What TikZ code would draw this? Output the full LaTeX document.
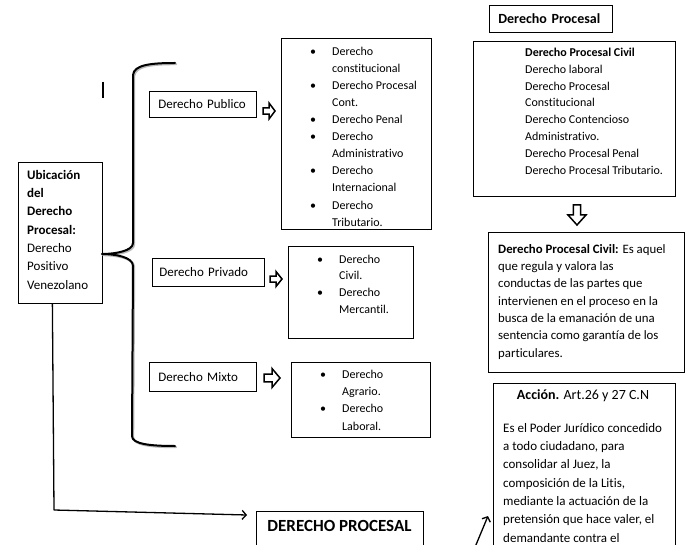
\documentclass[tikz,border=0pt]{standalone}
\usepackage{fontspec}
\setmainfont{Carlito}[Ligatures=NoCommon]
\usetikzlibrary{arrows.meta,calc}
\begin{document}
\begin{tikzpicture}[x=1pt,y=-1pt,
  box/.style={draw, line width=0.75pt, inner sep=0pt, anchor=north west},
  tbox/.style={box, align=left, font=\fontsize{13}{16}\selectfont},
  txt/.style={inner sep=0pt, anchor=north west},
  brace/.style={line width=2pt, line cap=round, line join=round},
  conn/.style={line width=1.3pt, -{Straight Barb[length=4pt,width=9pt,line width=1.3pt]}},
  harrowR/.pic={\draw[line width=1.5pt, line join=miter] (-0.5,-0.2)--(0,-0.2)--(0,-0.5)--(0.5,0)--(0,0.5)--(0,0.2)--(-0.5,0.2)--cycle;},
  harrowD/.pic={\draw[line width=1.5pt, line join=miter] (-0.2,-0.5)--(0.2,-0.5)--(0.2,0)--(0.5,0)--(0,0.5)--(-0.5,0)--(-0.2,0)--cycle;}
]
\useasboundingbox (0,0) rectangle (698,545);
\clip (0,0) rectangle (698,545);
\fill[white] (0,0) rectangle (698,545);

% left box
\node[box, minimum width=84pt, minimum height=141pt] (lb) at (18,162) {};
\node[txt, font=\fontsize{13}{18.3}\selectfont] (lbt) at (27,166.2) {\begin{tabular}{@{}l@{}}\textbf{Ubicación}\\ \textbf{del}\\ \textbf{Derecho}\\ \textbf{Procesal:}\\ Derecho\\ Positivo\\ Venezolano\end{tabular}};

% brace
\draw[brace, gray!55, shift={(1.2,1.2)}] (175,63) .. controls (150,63) and (134,65) .. (133,75) -- (133,243) .. controls (133,251) and (115,254) .. (102,254) .. controls (115,254) and (133,257) .. (133,266) -- (132,436) .. controls (132,444) and (150,446) .. (175,446);
\draw[brace] (175,63) .. controls (150,63) and (134,65) .. (133,75) -- (133,243) .. controls (133,251) and (115,254) .. (102,254) .. controls (115,254) and (133,257) .. (133,266) -- (132,436) .. controls (132,444) and (150,446) .. (175,446);

% small bar
\coordinate (bar1) at (103,82);
\coordinate (bar2) at (103,98);
\draw[line width=1.5pt] (bar1) -- (bar2);

% category boxes
\node[tbox, minimum width=107pt, minimum height=26pt, text width=89pt, inner xsep=9pt] (pub) at (149,91) {Derecho Publico};
\node[tbox, minimum width=112pt, minimum height=28pt, text width=98pt, inner xsep=7pt] (priv) at (152,258) {Derecho Privado};
\node[tbox, minimum width=107pt, minimum height=29pt, text width=89pt, inner xsep=9pt] (mix) at (149,362) {Derecho Mixto};

% hollow arrows
\pic[xscale=12,yscale=16] (apub) at (269,111) {harrowR};
\pic[xscale=12,yscale=15] (apriv) at (276,279) {harrowR};
\pic[xscale=16,yscale=19] (amix) at (272,378) {harrowR};
\pic[xscale=18,yscale=20] (adown) at (577,215) {harrowD};

% list boxes
\node[box, minimum width=150pt, minimum height=191pt] (l1) at (281,38) {};
\node[txt, font=\fontsize{12}{17.1}\selectfont] (l1t) at (310,43) {\begin{tabular}{@{}p{22pt}@{}l@{}}\textbullet & Derecho\\ & constitucional\\ \textbullet & Derecho Procesal\\ & Cont.\\ \textbullet & Derecho Penal\\ \textbullet & Derecho\\ & Administrativo\\ \textbullet & Derecho\\ & Internacional\\ \textbullet & Derecho\\ & Tributario.\end{tabular}};

\node[box, minimum width=125pt, minimum height=92pt] (l2) at (288,246) {};
\node[txt, font=\fontsize{12}{16.7}\selectfont] (l2t) at (317,251.3) {\begin{tabular}{@{}p{22pt}@{}l@{}}\textbullet & Derecho\\ & Civil.\\ \textbullet & Derecho\\ & Mercantil.\end{tabular}};

\node[box, minimum width=139pt, minimum height=75pt] (l3) at (291,362) {};
\node[txt, font=\fontsize{12}{17.3}\selectfont] (l3t) at (320,365.9) {\begin{tabular}{@{}p{22pt}@{}l@{}}\textbullet & Derecho\\ & Agrario.\\ \textbullet & Derecho\\ & Laboral.\end{tabular}};

% right column
\node[box, minimum width=123pt, minimum height=27pt, align=left, text width=105pt, inner xsep=9pt, font=\fontsize{14}{16}\selectfont\bfseries] (dpt) at (489,5) {Derecho Procesal};

\node[box, minimum width=202pt, minimum height=155pt] (rb) at (473,41) {};
\node[txt, font=\fontsize{12}{16.9}\selectfont] (rbt) at (525,44.2) {\begin{tabular}{@{}l@{}}\textbf{Derecho Procesal Civil}\\ Derecho laboral\\ Derecho Procesal\\ Constitucional\\ Derecho Contencioso\\ Administrativo.\\ Derecho Procesal Penal\\ Derecho Procesal Tributario.\end{tabular}};

\node[box, minimum width=196pt, minimum height=140pt] (desc) at (488,232) {};
\node[txt, font=\fontsize{12.8}{17.3}\selectfont] (desct) at (498,240.9) {\begin{tabular}{@{}l@{}}\textbf{Derecho Procesal Civil:} Es aquel\\ que regula y valora las\\ conductas de las partes que\\ intervienen en el proceso en la\\ busca de la emanación de una\\ sentencia como garantía de los\\ particulares.\end{tabular}};

\node[box, minimum width=182pt, minimum height=200pt] (acc) at (493,383) {};
\node[font=\fontsize{14}{16}\selectfont, inner sep=0pt] (acctitle) at (583,396) {\textbf{Acción.} Art.26 y 27 C.N};
\node[txt, font=\fontsize{13}{18.3}\selectfont] (acct) at (503,419.2) {\begin{tabular}{@{}l@{}}Es el Poder Jurídico concedido\\ a todo ciudadano, para\\ consolidar al Juez, la\\ composición de la Litis,\\ mediante la actuación de la\\ pretensión que hace valer, el\\ demandante contra el\end{tabular}};

% bottom box
\node[box, minimum width=167pt, minimum height=60pt] (dp) at (256,511) {};
\node[font=\fontsize{17}{20}\selectfont\bfseries, inner sep=0pt] (dptxt) at (339.5,526) {DERECHO PROCESAL};

% connectors
\coordinate (bend1) at (54,510);
\coordinate (dpin) at (247,515);
\draw[conn, line join=round] ([xshift=-8pt]lb.south) -- (bend1) -- (dpin);
\coordinate (ac0) at (473,552);
\coordinate (ac1) at (488,516);
\draw[conn] (ac0) -- (ac1);
\end{tikzpicture}
\end{document}
